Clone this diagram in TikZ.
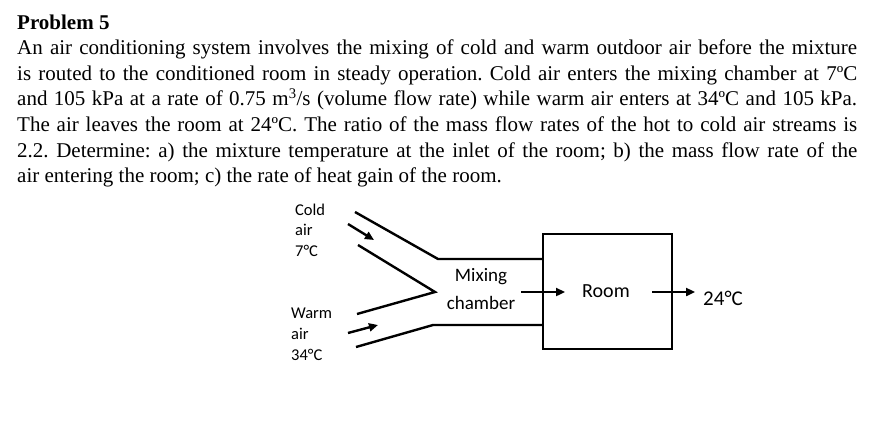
\documentclass[tikz,border=0pt]{standalone}
\usepackage{fontspec}
\setmainfont{Liberation Serif}
\newfontfamily\carfont{Carlito}
\usetikzlibrary{arrows.meta}
\frenchspacing
\begin{document}
\begin{tikzpicture}[x=1pt,y=-1pt,
  pipe/.style={line width=2.4pt},
  flow/.style={line width=2.4pt,-{Triangle[length=9pt,width=8pt]}},
  ln/.style={anchor=base west,inner sep=0pt,font=\fontsize{21}{22}\selectfont},
  lab/.style={inner sep=0pt,font=\carfont\fontsize{16.5}{18}\selectfont,anchor=base west}]
\useasboundingbox (0,0) rectangle (885,430);
\node[ln] (t0) at (17,30) {\textbf{Problem 5}};
\node[ln] (t1) at (17,55) {\hbox to 840pt{An air conditioning system involves the mixing of cold and warm outdoor air before the mixture}};
\node[ln] (t2) at (17,80.5) {\hbox to 840pt{is routed to the conditioned room in steady operation. Cold air enters the mixing chamber at 7ºC}};
\node[ln] (t3) at (17,106) {\hbox to 840pt{and 105 kPa at a rate of 0.75 m\textsuperscript{3}/s (volume flow rate) while warm air enters at 34ºC and 105 kPa.}};
\node[ln] (t4) at (17,132) {\hbox to 840pt{The air leaves the room at 24ºC. The ratio of the mass flow rates of the hot to cold air streams is}};
\node[ln] (t5) at (17,158) {\hbox to 840pt{2.2. Determine: a) the mixture temperature at the inlet of the room; b) the mass flow rate of the}};
\node[ln] (t6) at (17,183) {air entering the room; c) the rate of heat gain of the room.};
% diagram
\draw[pipe] (355,212) -- (438,259) -- (542,259);
\draw[pipe] (358,245) -- (435,292) -- (357,314);
\draw[pipe] (356,347) -- (433,325) -- (542,325);
\node[draw,line width=2.4pt,minimum width=129pt,minimum height=115pt,inner sep=0pt] (room) at (607.5,291.5) {};
\node[font=\carfont\fontsize{20}{20}\selectfont,inner sep=0pt] (rl) at (606,291) {Room};
\node[font=\carfont\fontsize{19}{28}\selectfont,align=center,inner sep=0pt] (mix) at (481,289) {Mixing\\chamber};
\coordinate (m1) at (521,292); \coordinate (m2) at (565,292);
\coordinate (o1) at (652,292); \coordinate (o2) at (695,292);
\draw[flow] (m1) -- (m2);
\draw[flow] (o1) -- (o2);
\node[font=\carfont\fontsize{21}{21}\selectfont,anchor=west,inner sep=0pt] (out) at (703,298) {24°C};
\coordinate (c1) at (348,224); \coordinate (c2) at (374,240);
\coordinate (w1) at (348,333); \coordinate (w2) at (378,325);
\draw[flow] (c1) -- (c2);
\draw[flow] (w1) -- (w2);
\node[lab] (cl1) at (295,215) {Cold};
\node[lab] (cl2) at (295,236) {air};
\node[lab] (cl3) at (295,256) {7°C};
\node[lab] (wl1) at (291,318) {Warm};
\node[lab] (wl2) at (291,339) {air};
\node[lab] (wl3) at (291,360) {34°C};
\end{tikzpicture}
\end{document}
